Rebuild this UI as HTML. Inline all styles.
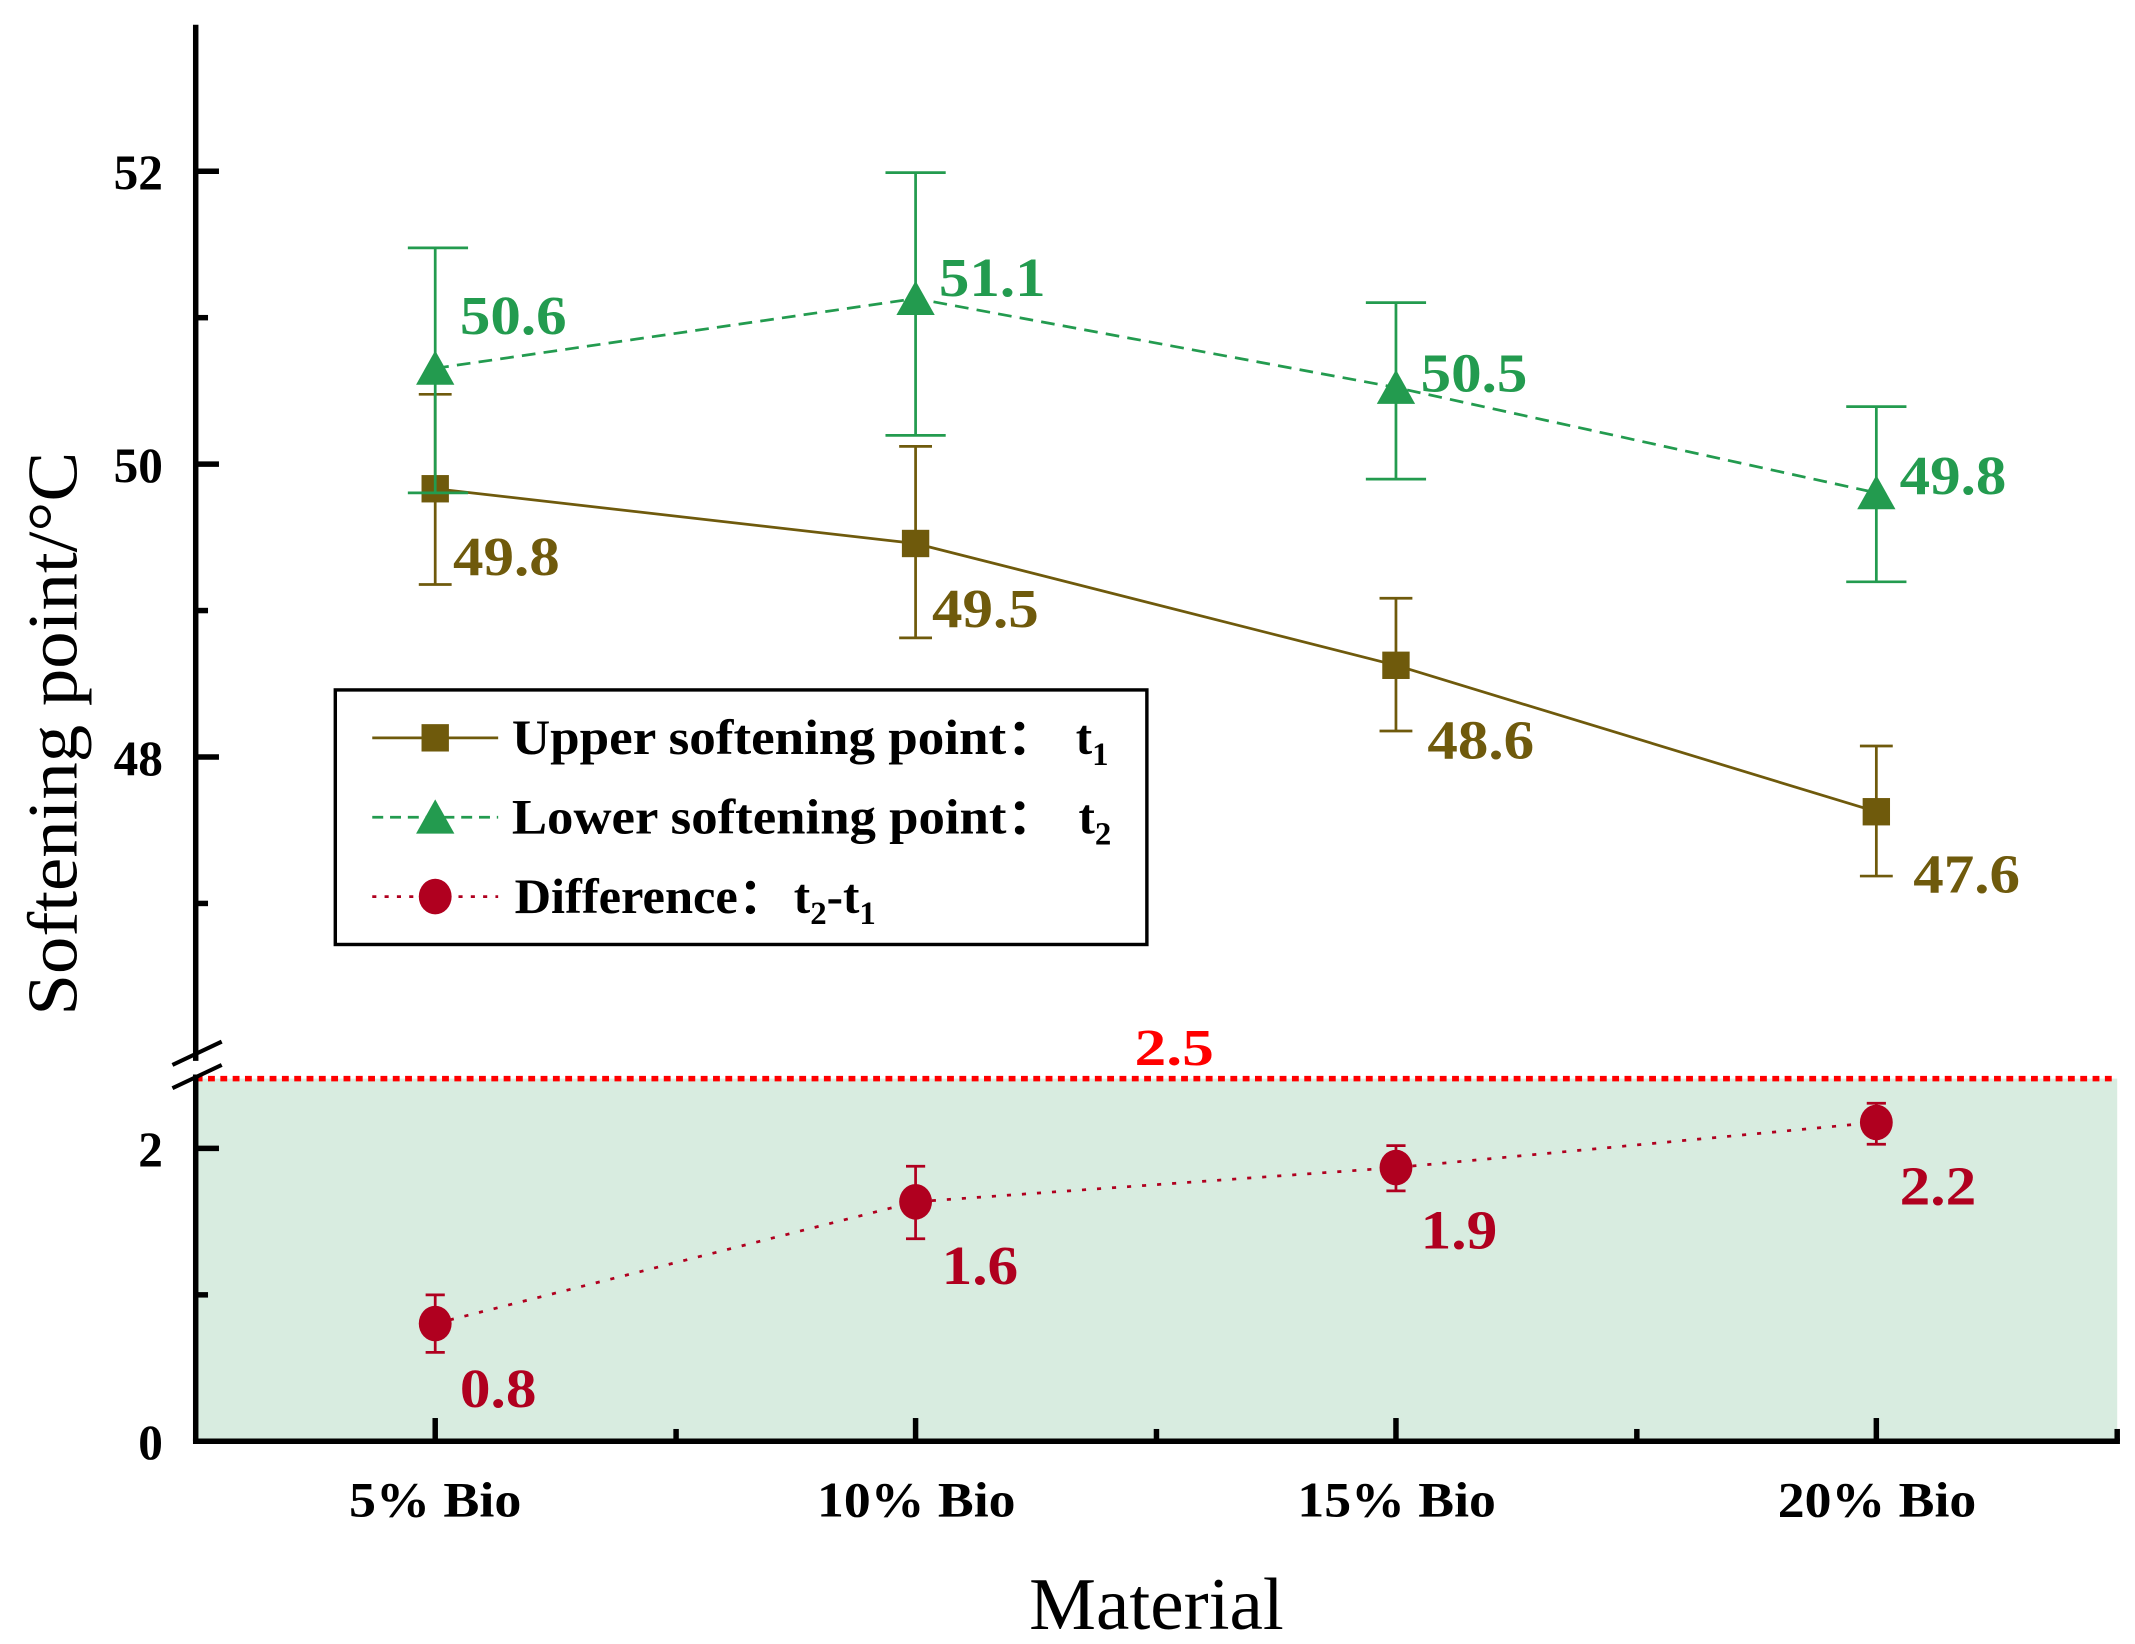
<!DOCTYPE html>
<html><head><meta charset="utf-8"><style>html,body{margin:0;padding:0;background:#fff}svg{display:block}</style></head>
<body>
<svg width="2135" height="1644" viewBox="0 0 1560 1201" xmlns="http://www.w3.org/2000/svg" font-family="Liberation Serif, serif">
<rect x="143" y="788" width="1404" height="265" fill="#d8ece0"/>
<line x1="143" y1="788" x2="1547" y2="788" stroke="#ff0000" stroke-width="4" stroke-dasharray="5,4"/>
<text x="829" y="778" fill="#ff0000" font-size="38" font-weight="bold" textLength="58" lengthAdjust="spacingAndGlyphs">2.5</text>
<g stroke="#000" stroke-width="4" fill="none">
<line x1="143" y1="18" x2="143" y2="775"/>
<line x1="143" y1="785" x2="143" y2="1053"/>
<line x1="141" y1="1053" x2="1549" y2="1053"/>
<line x1="126" y1="778" x2="162" y2="761" stroke-width="3"/>
<line x1="126" y1="795" x2="162" y2="778" stroke-width="3"/>
<line x1="143" y1="125" x2="160" y2="125"/><line x1="143" y1="339" x2="160" y2="339"/><line x1="143" y1="553" x2="160" y2="553"/>
<line x1="143" y1="232" x2="152" y2="232"/><line x1="143" y1="446" x2="152" y2="446"/><line x1="143" y1="660" x2="152" y2="660"/>
<line x1="143" y1="839" x2="160" y2="839"/><line x1="143" y1="946" x2="152" y2="946"/>
<line x1="318" y1="1053" x2="318" y2="1036"/><line x1="669" y1="1053" x2="669" y2="1036"/><line x1="1020" y1="1053" x2="1020" y2="1036"/><line x1="1371" y1="1053" x2="1371" y2="1036"/>
<line x1="494" y1="1053" x2="494" y2="1044"/><line x1="845" y1="1053" x2="845" y2="1044"/><line x1="1196" y1="1053" x2="1196" y2="1044"/><line x1="1547" y1="1053" x2="1547" y2="1044"/>
</g>
<g font-size="36" font-weight="bold" text-anchor="end">
<text x="119" y="138">52</text><text x="119" y="352">50</text><text x="119" y="566">48</text>
<text x="119" y="852">2</text><text x="119" y="1066">0</text>
</g>
<g font-size="36" font-weight="bold">
<text x="255" y="1108" textLength="126" lengthAdjust="spacingAndGlyphs">5% Bio</text>
<text x="597" y="1108" textLength="145" lengthAdjust="spacingAndGlyphs">10% Bio</text>
<text x="948" y="1108" textLength="145" lengthAdjust="spacingAndGlyphs">15% Bio</text>
<text x="1299" y="1108" textLength="145" lengthAdjust="spacingAndGlyphs">20% Bio</text>
</g>
<text x="752" y="1190" font-size="54" textLength="186" lengthAdjust="spacingAndGlyphs">Material</text>
<text transform="translate(56,742) rotate(-90)" font-size="52" textLength="412" lengthAdjust="spacingAndGlyphs">Softening point/°C</text>
<g stroke="#6f5a0c" stroke-width="2" fill="none">
<polyline points="318,357 669,397 1020,486 1371,593"/>
<path d="M318,288V427M306,288H330M306,427H330M669,326V466M657,326H681M657,466H681M1020,437V534M1008,437H1032M1008,534H1032M1371,545V640M1359,545H1383M1359,640H1383"/>
</g>
<g fill="#6f5a0c"><rect x="308" y="347" width="20" height="20"/><rect x="659" y="387" width="20" height="20"/><rect x="1010" y="476" width="20" height="20"/><rect x="1361" y="583" width="20" height="20"/></g>
<g fill="#6f5a0c" font-size="40" font-weight="bold"><text x="331" y="420" textLength="78" lengthAdjust="spacingAndGlyphs">49.8</text><text x="681" y="458" textLength="78" lengthAdjust="spacingAndGlyphs">49.5</text><text x="1043" y="554" textLength="78" lengthAdjust="spacingAndGlyphs">48.6</text><text x="1398" y="652" textLength="78" lengthAdjust="spacingAndGlyphs">47.6</text></g>
<g stroke="#239b4f" stroke-width="2" fill="none">
<polyline points="318,269 669,218 1020,283 1371,360" stroke-dasharray="10,6"/>
<path d="M318,181V360M298,181H342M298,360H342M669,126V318M647,126H691M647,318H691M1020,221V350M998,221H1042M998,350H1042M1371,297V425M1349,297H1393M1349,425H1393"/>
</g>
<g fill="#239b4f"><path d="M318,256L332,281H304Z"/><path d="M669,205L683,230H655Z"/><path d="M1020,270L1034,295H1006Z"/><path d="M1371,347L1385,372H1357Z"/></g>
<g fill="#239b4f" font-size="40" font-weight="bold"><text x="336" y="244" textLength="78" lengthAdjust="spacingAndGlyphs">50.6</text><text x="686" y="216" textLength="78" lengthAdjust="spacingAndGlyphs">51.1</text><text x="1038" y="286" textLength="78" lengthAdjust="spacingAndGlyphs">50.5</text><text x="1388" y="361" textLength="78" lengthAdjust="spacingAndGlyphs">49.8</text></g>
<g stroke="#b0001f" stroke-width="2" fill="none">
<polyline points="318,967 669,878 1020,853 1371,820" stroke-dasharray="3,8"/>
<path d="M318,946V988M311,946H325M311,988H325M669,852V905M662,852H676M662,905H676M1020,837V870M1013,837H1027M1013,870H1027M1371,806V836M1364,806H1378M1364,836H1378"/>
</g>
<g fill="#b0001f"><ellipse cx="318" cy="967" rx="12" ry="13"/><ellipse cx="669" cy="878" rx="12" ry="13"/><ellipse cx="1020" cy="853" rx="12" ry="13"/><ellipse cx="1371" cy="820" rx="12" ry="13"/></g>
<g fill="#b0001f" font-size="40" font-weight="bold"><text x="336" y="1028" textLength="56" lengthAdjust="spacingAndGlyphs">0.8</text><text x="688" y="938" textLength="56" lengthAdjust="spacingAndGlyphs">1.6</text><text x="1038" y="912" textLength="56" lengthAdjust="spacingAndGlyphs">1.9</text><text x="1388" y="880" textLength="56" lengthAdjust="spacingAndGlyphs">2.2</text></g>
<rect x="245" y="504" width="593" height="186" fill="#fff" stroke="#000" stroke-width="2.5"/>
<line x1="272" y1="539" x2="364" y2="539" stroke="#6f5a0c" stroke-width="2"/><rect x="308" y="529" width="20" height="20" fill="#6f5a0c"/>
<line x1="272" y1="597" x2="364" y2="597" stroke="#239b4f" stroke-width="2" stroke-dasharray="8,5"/><path d="M318,584L332,609H304Z" fill="#239b4f"/>
<line x1="272" y1="655" x2="364" y2="655" stroke="#b0001f" stroke-width="2" stroke-dasharray="3,6"/><ellipse cx="318" cy="655" rx="12" ry="13" fill="#b0001f"/>
<g font-size="36" font-weight="bold" fill="#000">
<text x="374" y="551" textLength="400" lengthAdjust="spacingAndGlyphs">Upper softening point：</text><text x="786" y="551">t<tspan font-size="24" dy="8">1</tspan></text>
<text x="374" y="609" textLength="400" lengthAdjust="spacingAndGlyphs">Lower softening point：</text><text x="788" y="609">t<tspan font-size="24" dy="8">2</tspan></text>
<text x="376" y="667" textLength="200" lengthAdjust="spacingAndGlyphs">Difference：</text><text x="580" y="667">t<tspan font-size="24" dy="8">2</tspan><tspan dy="-8">-t</tspan><tspan font-size="24" dy="8">1</tspan></text>
</g>
</svg>
</body></html>
